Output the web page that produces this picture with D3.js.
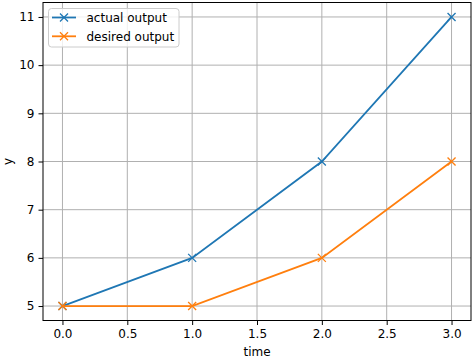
<!DOCTYPE html>
<html><head><meta charset="utf-8">
<script src="https://cdn.jsdelivr.net/npm/d3@7"></script>
<style>body{margin:0;background:#fff}text{font-family:"DejaVu Sans",sans-serif}</style>
</head><body>
<svg id="c" width="474" height="358"></svg>
<script>
const time = [0, 1, 2, 3];
const actual = [5, 6, 8, 11];
const desired = [5, 5, 6, 8];
const xTicks = [0, 0.5, 1, 1.5, 2, 2.5, 3];
const yTicks = [5, 6, 7, 8, 9, 10, 11];
const seriesNames = ["actual output", "desired output"];
const colors = ["#1f77b4", "#ff7f0e"];

const svg = d3.select("#c");
const L = 43, R = 471, T = 2.5, B = 320.5;
const x = d3.scaleLinear().domain([-0.15, 3.15]).range([L, R]);
const y = d3.scaleLinear().domain([4.7, 11.3]).range([B, T]);

// grid
svg.append("g").selectAll("line").data(xTicks).join("line")
  .attr("x1", d => x(d)).attr("x2", d => x(d)).attr("y1", T).attr("y2", B)
  .attr("stroke", "#b0b0b0").attr("stroke-width", 1);
svg.append("g").selectAll("line").data(yTicks).join("line")
  .attr("y1", d => y(d)).attr("y2", d => y(d)).attr("x1", L).attr("x2", R)
  .attr("stroke", "#b0b0b0").attr("stroke-width", 1);

// axes
const xa = svg.append("g").attr("transform", `translate(0,${B})`)
  .call(d3.axisBottom(x).tickValues(xTicks).tickFormat(d3.format(".1f")).tickSize(4.5).tickPadding(4));
const ya = svg.append("g").attr("transform", `translate(${L},0)`)
  .call(d3.axisLeft(y).tickValues(yTicks).tickFormat(d3.format("d")).tickSize(4.5).tickPadding(4));
[xa, ya].forEach(a => {
  a.select(".domain").remove();
  a.selectAll("text").attr("font-size", 12).attr("fill", "#000").style("font-family", "DejaVu Sans");
  a.selectAll("line").attr("stroke", "#000").attr("stroke-width", 1);
});
svg.append("rect").attr("x", L).attr("y", T).attr("width", R - L).attr("height", B - T)
  .attr("fill", "none").attr("stroke", "#000").attr("stroke-width", 1);

// lines
const series = [actual, desired];
const line = d3.line().x((d, i) => x(time[i])).y(d => y(d));
function cross(g, cx, cy, c) {
  const s = 4;
  g.append("path").attr("d", `M${cx - s},${cy - s}L${cx + s},${cy + s}M${cx - s},${cy + s}L${cx + s},${cy - s}`)
    .attr("stroke", c).attr("stroke-width", 1.3).attr("fill", "none");
}
series.forEach((s, k) => {
  svg.append("path").datum(s).attr("d", line).attr("fill", "none")
    .attr("stroke", colors[k]).attr("stroke-width", 1.8);
  const g = svg.append("g");
  s.forEach((d, i) => cross(g, x(time[i]), y(d), colors[k]));
});

// legend
const lg = svg.append("g");
lg.append("rect").attr("x", 48.5).attr("y", 8.5).attr("width", 130.5).attr("height", 38.5).attr("rx", 3)
  .attr("fill", "#fff").attr("fill-opacity", 0.8).attr("stroke", "#cccccc").attr("stroke-width", 1);
seriesNames.forEach((n, k) => {
  const yy = 17.5 + k * 18.8;
  lg.append("line").attr("x1", 52).attr("x2", 76).attr("y1", yy).attr("y2", yy)
    .attr("stroke", colors[k]).attr("stroke-width", 1.8);
  cross(lg, 64, yy, colors[k]);
  lg.append("text").attr("x", 86.5).attr("y", yy + 4.3).attr("font-size", 12).text(n);
});

// labels
svg.append("text").attr("x", (L + R) / 2).attr("y", 356).attr("text-anchor", "middle")
  .attr("font-size", 12).text("time");
svg.append("text").attr("transform", `translate(12,${(T + B) / 2}) rotate(-90)`).attr("text-anchor", "middle")
  .attr("font-size", 12).text("y");
</script>
</body></html>
